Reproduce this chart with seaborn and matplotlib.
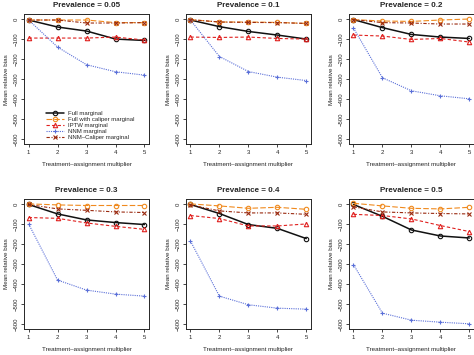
import numpy as np
import pandas as pd
import matplotlib
matplotlib.use("Agg")
import matplotlib.pyplot as plt
import seaborn as sns

# multiplier on the x axis
multiplier = [1, 2, 3, 4, 5]
prevalences = ["0.05", "0.1", "0.2", "0.3", "0.4", "0.5"]
methods = ["Full marginal", "Full with caliper marginal", "IPTW marginal",
           "NNM marginal", "NNM\u2013Caliper marginal"]

# mean relative bias per panel
full = [[-5, -40, -60, -100, -107],
        [-5, -38, -62, -80, -100],
        [-3, -43, -77, -90, -97],
        [-3, -50, -80, -93, -103],
        [-3, -48, -103, -122, -173],
        [-3, -62, -130, -160, -170]]
full_caliper = [[-5, -5, -5, -18, -18],
                [-3, -15, -15, -17, -22],
                [-3, -10, -12, -5, 0],
                [0, -5, -8, -8, -8],
                [0, -10, -22, -17, -27],
                [3, -10, -22, -25, -17]]
iptw = [[-95, -95, -95, -90, -105],
        [-90, -92, -90, -97, -100],
        [-80, -85, -102, -97, -115],
        [-68, -72, -95, -112, -127],
        [-58, -73, -110, -110, -100],
        [-52, -58, -75, -108, -138]]
nnm = [[-5, -140, -228, -263, -280],
       [-5, -187, -262, -290, -307],
       [-45, -293, -358, -383, -398],
       [-100, -380, -430, -450, -460],
       [-185, -460, -503, -520, -525],
       [-303, -545, -580, -590, -598]]
nnm_caliper = [[-5, -5, -20, -20, -18],
               [-3, -15, -17, -18, -22],
               [-3, -18, -20, -25, -25],
               [-3, -25, -32, -40, -43],
               [-5, -35, -45, -45, -52],
               [-15, -40, -45, -48, -50]]

series = [full, full_caliper, iptw, nnm, nnm_caliper]

styles = {
    "Full marginal": dict(color="#111111", linestyle="-", marker="o", lw=1.1),
    "Full with caliper marginal": dict(color="#f08a1e", linestyle=(0, (5, 2)), marker="o", lw=0.8),
    "IPTW marginal": dict(color="#e0201e", linestyle=(0, (3, 2)), marker="^", lw=0.8),
    "NNM marginal": dict(color="#5a6fd8", linestyle=(0, (1, 1)), marker="+", lw=0.8),
    "NNM\u2013Caliper marginal": dict(color="#9a2a10", linestyle=(0, (3, 1.5, 1, 1.5)), marker="x", lw=0.8),
}

sns.set_style("ticks")
plt.rcParams["font.family"] = ["Liberation Sans", "DejaVu Sans"]

fig = plt.figure(figsize=(4.74, 3.55), dpi=100)
lefts = [0.0506, 0.392, 0.736]
bottoms = [0.594, 0.0732]
w, h = 0.264, 0.366

for i, prev in enumerate(prevalences):
    r, c = divmod(i, 3)
    ax = fig.add_axes([lefts[c], bottoms[r], w, h])
    for name, vals in zip(methods, series):
        st = styles[name]
        sns.lineplot(x=multiplier, y=vals[i], ax=ax, color=st["color"],
                     linestyle=st["linestyle"], marker=st["marker"], lw=st["lw"],
                     markersize=3.2, mfc="none", mec=st["color"], mew=0.8,
                     label=name, legend=False)
    ax.set_xlim(0.84, 5.16)
    ax.set_ylim(-624, 24)
    ax.set_xticks(multiplier)
    ax.set_yticks([0, -100, -200, -300, -400, -500, -600])
    ax.tick_params(labelsize=4.3, length=2.5, width=0.6, pad=1.5)
    for lab in ax.get_yticklabels():
        lab.set_rotation(90)
        lab.set_va("center")
    for sp in ax.spines.values():
        sp.set_visible(True)
        sp.set_linewidth(0.7)
    ax.set_xlabel("Treatment\u2013assignment multiplier", fontsize=4.5, labelpad=5)
    ax.set_ylabel("Mean relative bias", fontsize=4.5, labelpad=3)
    ax.set_title(f"Prevalence = {prev}", fontsize=5.8, fontweight="bold", pad=5)
    if i == 0:
        ax.legend(loc="lower left", bbox_to_anchor=(0.14, 0.0), frameon=False,
                  fontsize=4.3, handlelength=3, labelspacing=0.15, borderpad=0.2)

fig.savefig("out.png", dpi=100)
